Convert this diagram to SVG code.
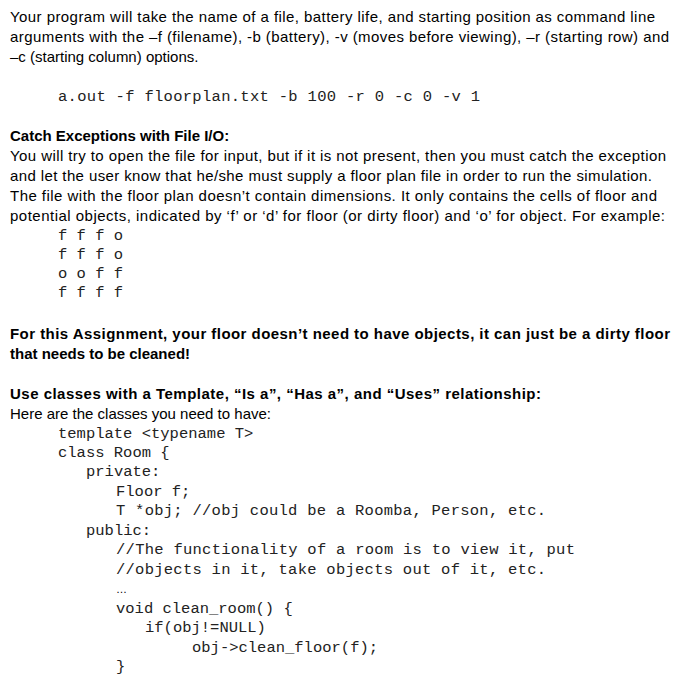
<svg xmlns="http://www.w3.org/2000/svg" width="695" height="679" viewBox="0 0 695 679">
<style>
.t{font-family:"Liberation Sans",Arial,sans-serif;font-size:15px;fill:#000}
.b{font-weight:bold}
.m{font-family:"Liberation Mono","Courier New",monospace;font-size:15.5px;fill:#222}
</style>
<rect width="695" height="679" fill="#fff"/>
<g id="text">
<text class="t" x="10" y="22" textLength="645" lengthAdjust="spacing">Your program will take the name of a file, battery life, and starting position as command line</text>
<text class="t" x="10" y="42" textLength="659" lengthAdjust="spacing">arguments with the –f (filename), -b (battery), -v (moves before viewing), –r (starting row) and</text>
<text class="t" x="10" y="62">–c (starting column) options.</text>
<text class="m" x="58" y="101" textLength="422" lengthAdjust="spacing">a.out -f floorplan.txt -b 100 -r 0 -c 0 -v 1</text>
<text class="t b" x="10" y="141">Catch Exceptions with File I/O:</text>
<text class="t" x="10" y="161" textLength="656" lengthAdjust="spacing">You will try to open the file for input, but if it is not present, then you must catch the exception</text>
<text class="t" x="10" y="181" textLength="642" lengthAdjust="spacing">and let the user know that he/she must supply a floor plan file in order to run the simulation.</text>
<text class="t" x="10" y="201" textLength="647" lengthAdjust="spacing">The file with the floor plan doesn’t contain dimensions.  It only contains the cells of floor and</text>
<text class="t" x="10" y="221" textLength="655" lengthAdjust="spacing">potential objects, indicated by ‘f’ or ‘d’ for floor (or dirty floor) and ‘o’ for object.  For example:</text>
<text class="m" x="58" y="240">f f f o</text>
<text class="m" x="58" y="259">f f f o</text>
<text class="m" x="58" y="278">o o f f</text>
<text class="m" x="58" y="297">f f f f</text>
<text class="t b" x="10" y="339" textLength="660" lengthAdjust="spacing">For this Assignment, your floor doesn’t need to have objects, it can just be a dirty floor</text>
<text class="t b" x="10" y="359">that needs to be cleaned!</text>
<text class="t b" x="10" y="399" textLength="531" lengthAdjust="spacing">Use classes with a Template, “Is a”, “Has a”, and “Uses” relationship:</text>
<text class="t" x="10" y="419">Here are the classes you need to have:</text>
<text class="m" x="58" y="438">template &lt;typename T&gt;</text>
<text class="m" x="58" y="457">class Room {</text>
<text class="m" x="86" y="476">private:</text>
<text class="m" x="116" y="496">Floor f;</text>
<text class="m" x="116" y="515" textLength="430" lengthAdjust="spacing">T *obj; //obj could be a Roomba, Person, etc.</text>
<text class="m" x="86" y="535">public:</text>
<text class="m" x="116" y="554" textLength="459" lengthAdjust="spacing">//The functionality of a room is to view it, put</text>
<text class="m" x="116" y="574" textLength="430" lengthAdjust="spacing">//objects in it, take objects out of it, etc.</text>
<text class="t" x="116" y="593" style="font-size:11px">…</text>
<text class="m" x="116" y="613">void clean_room() {</text>
<text class="m" x="145" y="632">if(obj!=NULL)</text>
<text class="m" x="192" y="652">obj-&gt;clean_floor(f);</text>
<text class="m" x="116" y="671">}</text>
</g>
</svg>
